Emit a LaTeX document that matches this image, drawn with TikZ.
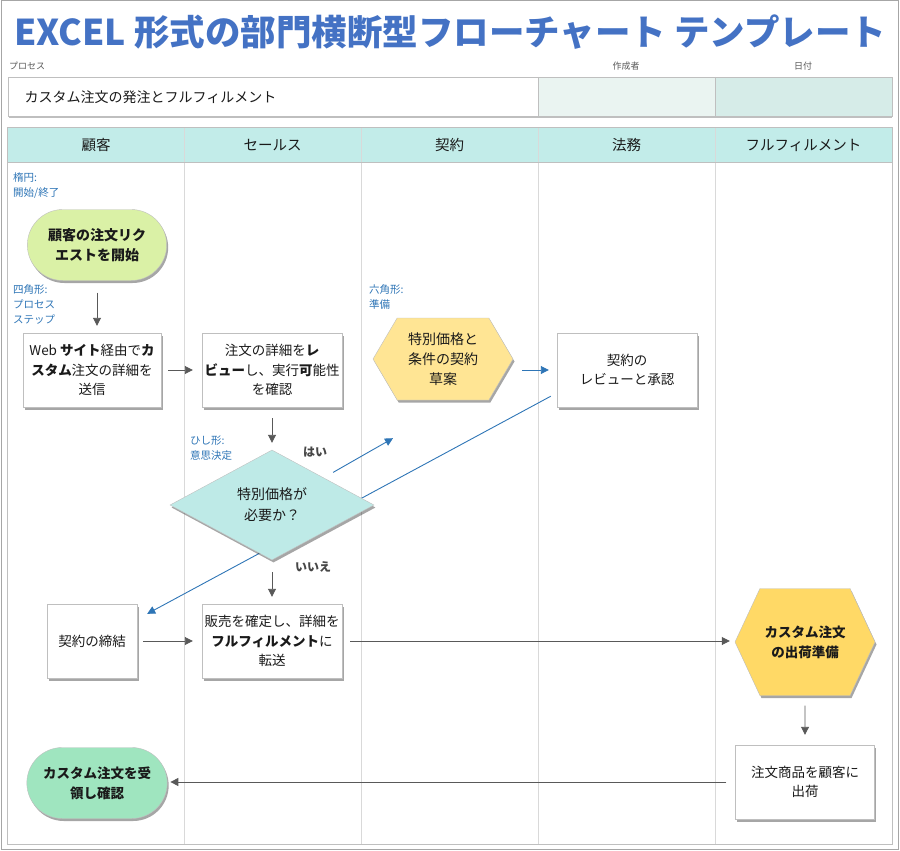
\documentclass[tikz,border=0pt]{standalone}
\usepackage{fontspec}
\setmainfont{Noto Sans CJK JP}
\usetikzlibrary{arrows.meta,shapes.geometric,shapes.misc,shapes.symbols,shadows}

\definecolor{ttl}{HTML}{4472C4}
\definecolor{lbl}{HTML}{2E75B6}
\definecolor{arw}{HTML}{595959}
\definecolor{frm}{HTML}{BFBFBF}
\definecolor{lanel}{HTML}{D9D9D9}
\definecolor{headc}{HTML}{C2ECE9}
\definecolor{startc}{HTML}{DAF1A6}
\definecolor{endc}{HTML}{9FE5BF}
\definecolor{decc}{HTML}{BEEAE7}
\definecolor{hexfa}{HTML}{FFE594}
\definecolor{hexfb}{HTML}{FFD966}
\definecolor{cella}{HTML}{EAF4F1}
\definecolor{cellb}{HTML}{D6ECE8}
\definecolor{txt}{HTML}{1A1A1A}

\newcommand{\fsz}[2]{\fontsize{#1}{#2}\selectfont}

\begin{document}
\begin{tikzpicture}[x=1pt, y=-1pt, >={Triangle[length=8pt,width=8pt]},
    shade/.style={drop shadow={shadow xshift=1.5pt, shadow yshift=-2.5pt, fill=black, opacity=0.35}},
    stepbox/.style={draw=frm, fill=white, shade, text=txt, align=center, inner sep=1pt,
        minimum width=140pt, minimum height=74pt, font=\fsz{13.5}{19.5}},
    term/.style={rounded rectangle, draw=frm, shade, text=txt, align=center,
        minimum width=146pt, minimum height=71pt, font=\fsz{14}{20}\bfseries},
    prep/.style={shape=signal, signal to=east and west, draw=frm, shade, text=txt,
        align=center, inner sep=1pt, minimum width=140pt},
    decide/.style={diamond, draw=frm, fill=decc, shade, text=txt, align=center, inner sep=0pt,
        minimum width=204pt, minimum height=110pt, font=\fsz{14}{21}},
    note/.style={text=lbl, align=left, anchor=north west, inner sep=0pt, font=\fsz{10.5}{15}},
    toplbl/.style={text=arw, inner sep=0pt, font=\fsz{9}{10}},
    yn/.style={text=arw!80!black, inner sep=0pt, font=\fsz{12}{14}\bfseries},
    flow/.style={->, draw=arw, line width=0.9pt},
    bflow/.style={->, draw=lbl, line width=0.9pt}]
    \useasboundingbox (0,0) rectangle (900,851);
    \draw[black!35, line width=1.5pt] (1.5,0.75) rectangle (898.5,849.5);

    % title and process row
    \node[anchor=west, text=ttl, inner sep=0pt, font=\fsz{35.5}{40}\bfseries] (title) at (14,32)
        {EXCEL 形式の部門横断型フローチャート テンプレート};
    \node[toplbl, anchor=west] (lproc) at (9,66) {プロセス};
    \node[toplbl] (lauth) at (626,66) {作成者};
    \node[toplbl] (ldate) at (803,66) {日付};
    \fill[black!25] (9,116) rectangle (892,118);
    \fill[white] (8,77) rectangle (538,116);
    \fill[cella] (538,77) rectangle (715,116);
    \fill[cellb] (715,77) rectangle (892,116);
    \draw[frm] (8,77) rectangle (892,116) (538,77) -- (538,116) (715,77) -- (715,116);
    \node[anchor=west, text=txt, font=\fsz{14}{16}] (proc) at (21,97) {カスタム注文の発注とフルフィルメント};

    % lanes
    \fill[headc] (7,127) rectangle (892,162);
    \foreach \x in {184,361,538,715} \draw[lanel] (\x,127) -- (\x,844);
    \draw[frm] (7,162) -- (892,162);
    \draw[frm, line width=0.8pt] (7,127) rectangle (892,844);
    \foreach \x/\t [count=\i] in {96/顧客, 272.5/セールス, 449.5/契約, 626.5/法務, 803.5/フルフィルメント}
        \node[text=txt, font=\fsz{14.5}{16}] (hd\i) at (\x,145) {\t};

    % notes
    \node[note] (n1) at (13,172) {楕円:\\開始/終了};
    \node[note] (n2) at (13,284) {四角形:\\プロセス\\ステップ};
    \node[note] (n3) at (369,284) {六角形:\\準備};
    \node[note] (n4) at (190,436) {ひし形:\\意思決定};

    % shapes
    \node[term, fill=startc] (st) at (97,245) {顧客の注文リク\\エストを開始};
    \node[stepbox, minimum width=138pt] (b1) at (92,370)
        {Web \textbf{サイト}経由で\textbf{カ}\\\textbf{スタム}注文の詳細を\\送信};
    \node[stepbox] (b2) at (272,370) {注文の詳細を\textbf{レ}\\\textbf{ビュー}し、実行\textbf{可}能性\\を確認};
    \node[prep, fill=hexfa, minimum height=82pt, signal pointer angle=119, font=\fsz{14}{20}] (h1) at (443,359)
        {特別価格と\\条件の契約\\草案};
    \node[stepbox] (b3) at (627,370) {契約の\\レビューと承認};
    \node[stepbox, minimum width=90pt] (b4) at (92,641) {契約の締結};
    \draw[bflow] ([shift={(-6,-11)}]b3.south west) -- ([shift={(10,10)}]b4.north east);
    \node[decide] (dq) at (272,505) {特別価格が\\必要か？};
    \node[stepbox] (b5) at (272,641) {販売を確定し、詳細を\\\textbf{フルフィルメント}に\\転送};
    \node[prep, fill=hexfb, minimum height=107pt, signal pointer angle=130, font=\fsz{13.5}{20}\bfseries] (h2) at (805,642)
        {カスタム注文\\の出荷準備};
    \node[stepbox, minimum width=139pt] (b6) at (805,782) {注文商品を顧客に\\出荷};
    \node[term, fill=endc, minimum width=147pt, font=\fsz{13.5}{20}\bfseries] (en) at (97,783)
        {カスタム注文を受\\領し確認};
    \node[yn] (yes) at (315,452) {はい};
    \node[yn] (no) at (313,567) {いいえ};

    % connectors
    \draw[flow, shorten <=12pt, shorten >=7pt] (st.south) -- (st.south |- b1.north);
    \draw[flow, shorten <=7pt, shorten >=9pt] (b1) -- (b2);
    \draw[flow, shorten <=11pt, shorten >=7pt] (b2) -- (dq);
    \draw[bflow] ([shift={(10,-5)}]dq.north east) -- ([shift={(-50,38)}]h1.south);
    \draw[bflow, shorten <=9pt, shorten >=8pt] (h1.east |- b3) -- (b3);
    \draw[flow, shorten <=12pt, shorten >=7pt] (dq) -- (b5);
    \draw[flow, shorten <=6pt, shorten >=9pt] (b4) -- (b5);
    \draw[flow, shorten <=8pt, shorten >=5pt] (b5) -- (b5 -| h2.west);
    \draw[flow, shorten <=10pt, shorten >=10pt] (h2) -- (b6);
    \draw[flow, shorten <=9pt, shorten >=3pt] (b6) -- (b6 -| en.east);
\end{tikzpicture}
\end{document}
